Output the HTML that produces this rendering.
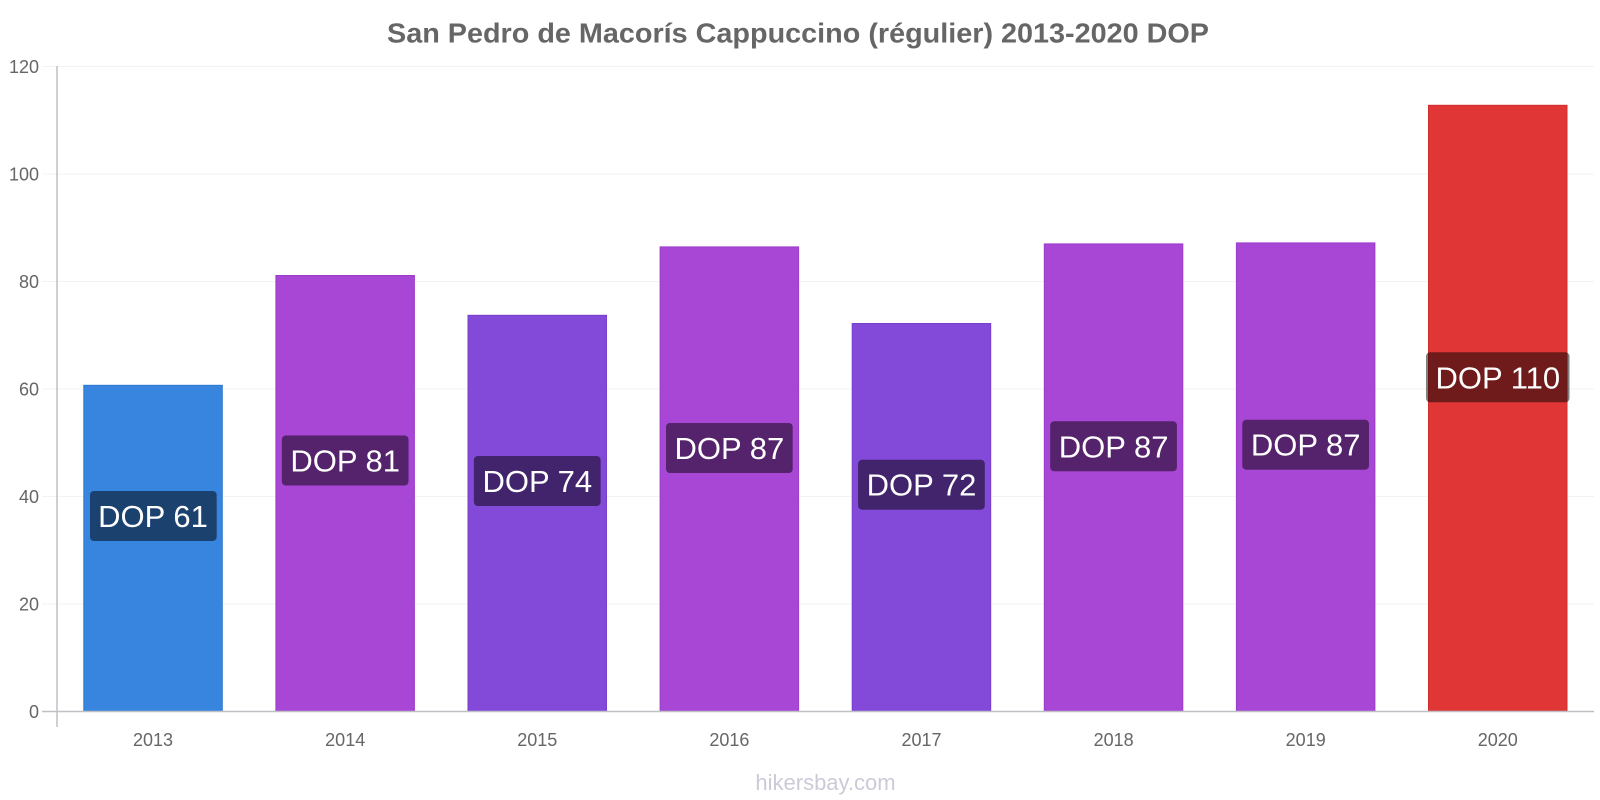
<!DOCTYPE html>
<html>
<head>
<meta charset="utf-8">
<style>
  html,body{margin:0;padding:0;background:#fff;}
  svg{display:block;}
  text{font-family:"Liberation Sans",Arial,sans-serif;}
</style>
</head>
<body>
<svg width="1600" height="800" viewBox="0 0 1600 800" xmlns="http://www.w3.org/2000/svg">
  <rect x="0" y="0" width="1600" height="800" fill="#fff"/>
  <!-- title -->
  <text x="387" y="42.7" font-size="28" font-weight="bold" fill="#666" textLength="822" lengthAdjust="spacingAndGlyphs">San Pedro de Macorís Cappuccino (régulier) 2013-2020 DOP</text>

  <!-- grid lines -->
  <g stroke="#f3f3f3" stroke-width="1">
    <line x1="42" y1="66.5" x2="1594" y2="66.5"/>
    <line x1="42" y1="174" x2="1594" y2="174"/>
    <line x1="42" y1="281.5" x2="1594" y2="281.5"/>
    <line x1="42" y1="389" x2="1594" y2="389"/>
    <line x1="42" y1="496.5" x2="1594" y2="496.5"/>
    <line x1="42" y1="604" x2="1594" y2="604"/>
  </g>

  <!-- y tick labels -->
  <g font-size="18" fill="#666" text-anchor="end">
    <text x="39" y="73">120</text>
    <text x="39" y="180.5">100</text>
    <text x="39" y="288">80</text>
    <text x="39" y="395.5">60</text>
    <text x="39" y="503">40</text>
    <text x="39" y="610.5">20</text>
    <text x="39" y="718">0</text>
  </g>

  <!-- bars -->
  <g stroke-width="1">
    <rect x="83.8" y="385.3" width="138.5" height="326.2" fill="#3785de" stroke="#2f78cf"/>
    <rect x="275.9" y="275.5" width="138.5" height="436" fill="#a846d6" stroke="#9c3dca"/>
    <rect x="468" y="315.3" width="138.5" height="396.2" fill="#8349d8" stroke="#7740cc"/>
    <rect x="660.1" y="246.9" width="138.5" height="464.6" fill="#a846d6" stroke="#9c3dca"/>
    <rect x="852.2" y="323.5" width="138.5" height="388" fill="#8349d8" stroke="#7740cc"/>
    <rect x="1044.3" y="243.9" width="138.5" height="467.6" fill="#a846d6" stroke="#9c3dca"/>
    <rect x="1236.4" y="242.9" width="138.5" height="468.6" fill="#a846d6" stroke="#9c3dca"/>
    <rect x="1428.5" y="105.3" width="138.5" height="606.2" fill="#e03636" stroke="#d22d2d"/>
  </g>

  <!-- axes -->
  <line x1="57" y1="66" x2="57" y2="727" stroke="#bfbfc6" stroke-width="1.5"/>
  <line x1="42" y1="711.5" x2="1594" y2="711.5" stroke="#bfbfc6" stroke-width="1.5"/>

  <!-- x labels -->
  <g font-size="18" fill="#666" text-anchor="middle">
    <text x="153" y="746">2013</text>
    <text x="345.2" y="746">2014</text>
    <text x="537.3" y="746">2015</text>
    <text x="729.4" y="746">2016</text>
    <text x="921.5" y="746">2017</text>
    <text x="1113.6" y="746">2018</text>
    <text x="1305.7" y="746">2019</text>
    <text x="1497.8" y="746">2020</text>
  </g>

  <!-- value labels -->
  <g fill="rgba(0,0,0,0.5)">
    <rect x="90" y="491" width="126.7" height="50" rx="4"/>
    <rect x="281.8" y="435.5" width="126.7" height="50" rx="4"/>
    <rect x="473.9" y="456" width="126.7" height="50" rx="4"/>
    <rect x="666" y="423" width="126.7" height="50" rx="4"/>
    <rect x="858.1" y="459.7" width="126.7" height="50" rx="4"/>
    <rect x="1050.2" y="421.3" width="126.7" height="50" rx="4"/>
    <rect x="1242.3" y="419.7" width="126.7" height="50" rx="4"/>
    <rect x="1426" y="352.3" width="143.5" height="50" rx="4"/>
  </g>
  <g font-size="31" fill="#fff" text-anchor="middle">
    <text x="153" y="527">DOP 61</text>
    <text x="345.2" y="471.5">DOP 81</text>
    <text x="537.3" y="492">DOP 74</text>
    <text x="729.4" y="459">DOP 87</text>
    <text x="921.5" y="495.7">DOP 72</text>
    <text x="1113.6" y="457.3">DOP 87</text>
    <text x="1305.7" y="455.7">DOP 87</text>
    <text x="1497.8" y="388.3">DOP 110</text>
  </g>

  <!-- watermark -->
  <text x="825.5" y="790" font-size="22" fill="#cbcbd8" text-anchor="middle">hikersbay.com</text>
</svg>
</body>
</html>
